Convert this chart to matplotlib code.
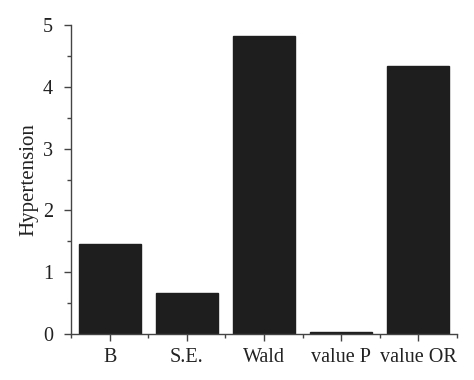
import matplotlib
matplotlib.use('Agg')
import matplotlib.pyplot as plt
import numpy as np
from matplotlib.ticker import MultipleLocator, FixedLocator

# Data
categories = ['B', 'S.E.', 'Wald', 'value P', 'value OR']
values = [1.46, 0.67, 4.83, 0.03, 4.33]

plt.rcParams['font.family'] = ['Liberation Serif', 'DejaVu Serif']

fig = plt.figure(figsize=(4.74, 3.8), dpi=100)
ax = fig.add_axes([0.150, 0.121, 0.814, 0.813])

x = np.arange(len(categories))
ax.bar(x, values, width=0.8, color='#1e1e1e', edgecolor='#1e1e1e')

ax.set_xlim(-0.5, len(categories) - 0.5)
ax.set_ylim(0, 5)
ax.set_xticks(x)
ax.set_xticklabels(categories)
ax.xaxis.set_minor_locator(FixedLocator(np.arange(-0.5, len(categories), 1.0)))
ax.yaxis.set_major_locator(MultipleLocator(1))
ax.yaxis.set_minor_locator(MultipleLocator(0.5))

for side in ['top', 'right']:
    ax.spines[side].set_visible(False)
for side in ['left', 'bottom']:
    ax.spines[side].set_color('#444444')
    ax.spines[side].set_linewidth(1.0)

ax.tick_params(axis='both', which='major', direction='out', length=5, width=1,
               color='#444444', labelsize=14.5, labelcolor='#222222')
ax.tick_params(axis='both', which='minor', direction='out', length=3, width=1,
               color='#444444')
ax.tick_params(axis='x', which='major', pad=5)
ax.tick_params(axis='y', which='major', pad=8)

ax.set_ylabel('Hypertension', fontsize=15, color='#222222', labelpad=3)

fig.savefig('out.png', dpi=100)
